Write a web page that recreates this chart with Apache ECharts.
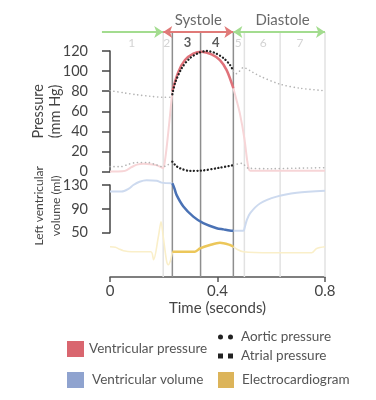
<!DOCTYPE html>
<html><head><meta charset="utf-8">
<script src="https://cdn.jsdelivr.net/npm/echarts@6/dist/echarts.min.js"></script>
<style>html,body{margin:0;padding:0;background:#fff}#c{width:376px;height:400px}</style>
</head><body><div id="c"></div>
<script>
// ---- data ----
const timeTicks = [0, 0.4, 0.8];
const pressureTicks = [0, 20, 40, 60, 80, 100, 120];
const volumeTicks = [50, 90, 130];
const phaseLabels = ['1', '2', '3', '4', '5', '6', '7'];
const phaseMid = [0.081, 0.211, 0.288, 0.394, 0.477, 0.570, 0.707];
const periodNames = ['Systole', 'Diastole'];
const periodMid = [0.3285, 0.642];
const boundsStrong = [0.232, 0.337, 0.459];
const boundsLight = [0.198, 0.5, 0.633, 0.8];
const arrowSystole = [0.198, 0.459];
const arrowDiastoleA = [-0.03, 0.198];
const arrowDiastoleB = [0.459, 0.8];

const ventPressurePre = [[0,0.3],[0.03,0.3],[0.056,0.8],[0.08,4.5],[0.1,7],[0.125,7.8],[0.15,7.4],[0.175,6.3],[0.19,4.5],[0.198,3.5],[0.205,12],[0.212,27],[0.221,50],[0.232,80]];
const ventPressure = [[0.232,80],[0.254,99],[0.279,111],[0.31,117.5],[0.341,119.3],[0.378,116.7],[0.409,111],[0.434,101],[0.459,83]];
const ventPressurePost = [[0.459,83],[0.47,72],[0.484,57],[0.5,33],[0.51,12],[0.516,3],[0.522,1],[0.6,1],[0.7,1],[0.8,1]];

const aorticPre = [[0,80.5],[0.05,78.5],[0.1,76.5],[0.15,75],[0.198,74],[0.232,74]];
const aortic = [[0.232,77],[0.242,88],[0.267,103],[0.298,113],[0.329,118],[0.36,120],[0.391,118],[0.422,113],[0.447,106],[0.459,100]];
const aorticPost = [[0.459,100],[0.47,97.5],[0.482,100],[0.496,103.5],[0.53,99],[0.558,95],[0.633,87],[0.707,83],[0.8,80.5]];

const atrialPre = [[0,5],[0.04,5],[0.07,7.5],[0.1,9.2],[0.14,9.2],[0.17,7],[0.195,5],[0.21,6],[0.232,10]];
const atrial = [[0.232,10],[0.245,6],[0.26,3.4],[0.298,0.8],[0.335,1],[0.409,4],[0.459,6.5]];
const atrialPost = [[0.459,6.5],[0.49,8.3],[0.515,3.5],[0.6,3],[0.7,3.5],[0.8,4]];

const volumePre = [[0,119],[0.043,119],[0.07,124],[0.087,130],[0.11,135.5],[0.136,138],[0.174,137],[0.192,134],[0.232,133]];
const volume = [[0.232,133],[0.24,124],[0.248,113],[0.273,94],[0.31,77],[0.347,66],[0.397,57.5],[0.422,55.6],[0.445,53.8],[0.459,53.3]];
const volumePost = [[0.459,53.3],[0.496,53.3],[0.502,60],[0.509,71],[0.521,82.5],[0.558,99],[0.62,110.5],[0.695,117],[0.8,120.4]];

const ecgPre = [[0,0.6],[0.02,0.55],[0.035,0.35],[0.05,0.2],[0.08,0.1],[0.152,0.1],[0.162,-0.7],[0.18,1.6],[0.19,3.1],[0.198,1.6],[0.211,-0.9],[0.217,-1.2],[0.226,-0.7],[0.232,0.1]];
const ecg = [[0.232,0.1],[0.316,0.1],[0.335,0.43],[0.372,0.77],[0.409,1.0],[0.447,0.77],[0.459,0.6]];
const ecgPost = [[0.459,0.6],[0.471,0.37],[0.496,0.1],[0.6,0],[0.75,0],[0.769,0.43],[0.8,0.6]];

// ---- chart ----
const FONT = 'Lato';
const TXT = '#444';
const chart = echarts.init(document.getElementById('c'), null, {renderer: 'canvas'});

const G = {left: 110, right: 51};
const hiddenX = i => ({type: 'value', gridIndex: i, min: 0, max: 0.8, show: false});

function vline(t, strong) {
  return {type: 'line', xAxisIndex: 0, yAxisIndex: 0, data: [[t, 0], [t, 1]], symbol: 'none', silent: true, z: 1,
    lineStyle: {color: strong ? '#8e8e8e' : '#e2e2e2', width: 1.5}};
}
function arrow(span, color, syms) {
  return {type: 'lines', coordinateSystem: 'cartesian2d', xAxisIndex: 0, yAxisIndex: 0, clip: false, silent: true,
    symbol: syms, symbolSize: 9, z: 3,
    lineStyle: {color: color, width: 2, opacity: 1, curveness: 0},
    data: [{coords: [[span[0], 1], [span[1], 1]]}]};
}
function curve(name, grid, data, style, z) {
  return {name: name, type: 'line', xAxisIndex: grid, yAxisIndex: grid, data: data, symbol: 'none', smooth: 0.3,
    clip: false, silent: true, z: z, lineStyle: style};
}
const dotsStrong = {color: '#222', width: 2.3, type: [0.1, 3.4], cap: 'round'};
const dotsLight = {color: '#b4b4b4', width: 1.6, type: [0.1, 3.9], cap: 'round'};

const series = [];
boundsLight.forEach(t => series.push(vline(t, false)));
boundsStrong.forEach(t => series.push(vline(t, true)));
series.push(arrow(arrowDiastoleA, '#a3dc8f', ['none', 'arrow']));
series.push(arrow(arrowSystole, '#e07a78', ['arrow', 'arrow']));
series.push(arrow(arrowDiastoleB, '#a3dc8f', ['arrow', 'arrow']));
series.push({type: 'scatter', xAxisIndex: 0, yAxisIndex: 0, symbolSize: 1, silent: true, clip: false,
  itemStyle: {color: 'rgba(0,0,0,0)'},
  data: phaseLabels.map((l, i) => ({value: [phaseMid[i], 0.955], name: l,
    label: (i === 2 || i === 3) ? {color: '#333', fontWeight: 'bold', fontSize: 13} : {color: '#c8c8c8'}})),
  label: {show: true, position: 'inside', formatter: '{b}', fontSize: 12, fontFamily: FONT}});
series.push({type: 'scatter', xAxisIndex: 0, yAxisIndex: 0, symbolSize: 1, silent: true, clip: false,
  itemStyle: {color: 'rgba(0,0,0,0)'},
  data: periodNames.map((l, i) => ({value: [periodMid[i], 1.047], name: l})),
  label: {show: true, position: 'inside', formatter: '{b}', fontSize: 15, color: TXT, fontFamily: FONT}});

// faded parts
series.push(curve('vpPre', 1, ventPressurePre, {color: '#f7d5d7', width: 2}, 4));
series.push(curve('vpPost', 1, ventPressurePost, {color: '#f7d5d7', width: 2}, 4));
series.push(curve('aoPre', 1, aorticPre, dotsLight, 4));
series.push(curve('aoPost', 1, aorticPost, dotsLight, 4));
series.push(curve('atPre', 1, atrialPre, dotsLight, 4));
series.push(curve('atPost', 1, atrialPost, dotsLight, 4));
series.push(curve('volPre', 2, volumePre, {color: '#cddaef', width: 2}, 4));
series.push(curve('volPost', 2, volumePost, {color: '#cddaef', width: 2}, 4));
series.push(curve('ecgPre', 3, ecgPre, {color: '#faefc9', width: 1.6}, 4));
series.push(curve('ecgPost', 3, ecgPost, {color: '#faefc9', width: 1.6}, 4));
// strong parts
series.push(curve('Ventricular pressure', 1, ventPressure, {color: '#e0727a', width: 2.5}, 6));
series.push(curve('Aortic pressure', 1, aortic, dotsStrong, 7));
series.push(curve('Atrial pressure', 1, atrial, dotsStrong, 7));
series.push(curve('Ventricular volume', 2, volume, {color: '#4a72b5', width: 2.5}, 6));
series.push(curve('Electrocardiogram', 3, ecg, {color: '#ecc75a', width: 2.5}, 6));

const legText = {fontSize: 13.5, color: '#555', fontFamily: FONT};
const dotsIcon = 'path://M0,5a5,5 0 1,0 10,0a5,5 0 1,0 -10,0M20,5a5,5 0 1,0 10,0a5,5 0 1,0 -10,0';
const sqIcon = 'path://M0,0h10v10h-10zM20,0h10v10h-10z';
function leg(name, icon, color, left, top, w, h, pad) {
  return {show: true, left: left, top: top, padding: 0, itemWidth: w, itemHeight: h, selectedMode: false,
    itemStyle: {borderWidth: 0}, textStyle: Object.assign({}, legText, {padding: [0, 0, 0, pad]}),
    data: [{name: name, icon: icon, itemStyle: {color: color, borderWidth: 0}}]};
}

const option = {
  animation: false,
  backgroundColor: '#fff',
  textStyle: {fontFamily: FONT},
  grid: [
    {left: G.left, right: G.right, top: 7.5, bottom: 123},
    {left: G.left, right: G.right, top: 51, height: 120.7},
    {left: G.left, right: G.right, top: 185, height: 47.7},
    {left: G.left, right: G.right, top: 212.7, height: 60}
  ],
  xAxis: [
    {type: 'value', gridIndex: 0, min: 0, max: 0.8, interval: 0.4,
      axisLine: {show: true, lineStyle: {color: '#555', width: 1.5}},
      axisTick: {show: true, length: 5, lineStyle: {color: '#555', width: 1.5},
        customValues: timeTicks},
      axisLabel: {fontSize: 15, color: TXT, margin: 7, customValues: timeTicks},
      splitLine: {show: false},
      name: 'Time (seconds)', nameLocation: 'middle', nameGap: 24, nameMoveOverlap: false,
      nameTextStyle: {fontSize: 15, color: TXT}},
    hiddenX(1), hiddenX(2), hiddenX(3)
  ],
  yAxis: [
    {type: 'value', gridIndex: 0, min: 0, max: 1.1, show: false},
    {type: 'value', gridIndex: 1, min: 0, max: 120, interval: 20, offset: 12,
      axisLine: {show: true, lineStyle: {color: '#444', width: 1.5}},
      axisTick: {show: true, length: 8, lineStyle: {color: '#444', width: 1.5}, customValues: pressureTicks},
      axisLabel: {fontSize: 14.5, color: TXT, margin: 10, customValues: pressureTicks},
      splitLine: {show: false},
      name: 'Pressure\n(mm Hg)', nameLocation: 'middle', nameRotate: 90, nameGap: 34.5, nameMoveOverlap: false,
      nameTextStyle: {fontSize: 14.5, lineHeight: 17, color: TXT}},
    {type: 'value', gridIndex: 2, min: 50, max: 130, offset: 12,
      axisLine: {show: true, lineStyle: {color: '#444', width: 1.5}},
      axisTick: {show: true, length: 8, lineStyle: {color: '#444', width: 1.5}, customValues: volumeTicks},
      axisLabel: {fontSize: 14.5, color: TXT, margin: 10, customValues: volumeTicks},
      splitLine: {show: false},
      name: 'Left ventricular\nvolume (ml)', nameLocation: 'middle', nameRotate: 90, nameGap: 33, nameMoveOverlap: false,
      nameTextStyle: {fontSize: 12, lineHeight: 17, color: TXT, padding: [0, 0, 0, 6]}},
    {type: 'value', gridIndex: 3, min: -2, max: 4, show: false}
  ],
  legend: [
    leg('Ventricular pressure', 'rect', '#d9666f', 67, 341, 17, 16, 0),
    leg('Ventricular volume', 'rect', '#8fa3cf', 67, 372, 17, 16, 3),
    leg('Aortic pressure', dotsIcon, '#222', 218, 330, 15, 14, 3),
    leg('Atrial pressure', sqIcon, '#222', 218, 349, 15, 14, 3),
    leg('Electrocardiogram', 'rect', '#dcb45a', 218, 372, 16, 16, 3)
  ],
  series: series
};
chart.setOption(option);
</script>
</body></html>
